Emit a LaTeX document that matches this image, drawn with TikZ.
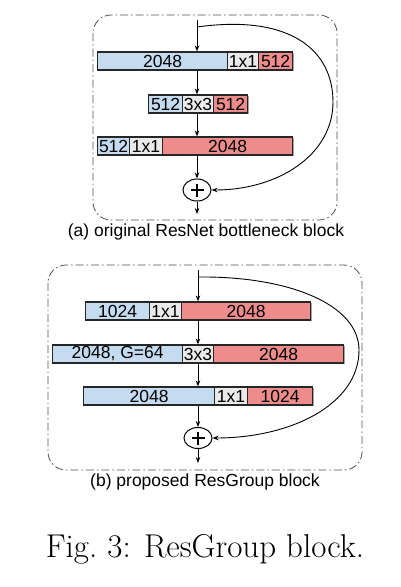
\documentclass[tikz,border=0pt]{standalone}
\usepackage{fontspec}
\setsansfont{Liberation Sans}
\usetikzlibrary{shapes.geometric,shadows,arrows.meta}
\definecolor{cblue}{RGB}{197,220,240}
\definecolor{cgray}{RGB}{234,234,234}
\definecolor{cred}{RGB}{238,140,140}
\definecolor{cborder}{RGB}{80,80,80}
\begin{document}
\begin{tikzpicture}[x=1pt,y=-1pt,
  seg/.style={draw=black!85, line width=1.2pt, inner sep=0pt, minimum height=18pt, anchor=west,
    font=\sffamily\fontsize{17.5}{18}\selectfont,
    drop shadow={shadow xshift=1.2pt, shadow yshift=-1.2pt, fill=black!45, opacity=0.8}},
  bl/.style={seg, fill=cblue},
  gr/.style={seg, fill=cgray},
  rd/.style={seg, fill=cred},
  arr/.style={-{Stealth[length=6pt,width=4.5pt]}, line width=0.9pt},
  frame/.style={draw=cborder, line width=0.8pt, dash pattern=on 8pt off 3pt on 1.5pt off 3pt, rounded corners=18pt},
  plusnode/.style={draw, ellipse, line width=1pt, minimum width=28pt, minimum height=22pt, inner sep=0pt},
  capt/.style={font=\sffamily\fontsize{17.5}{18}\selectfont, anchor=base, inner sep=0pt}
]
\useasboundingbox (0,0) rectangle (400,587);

% ---------------- (a) ----------------
\draw[frame] (93,15) rectangle (337,220);
\coordinate (ain) at (197,20);
\coordinate (askip) at (197,27);
\coordinate (aout) at (197,214);
\coordinate (aright) at (333,102);

\node[bl, minimum width=130pt] (a1b) at (97,61) {2048};
\node[gr, minimum width=31pt] (a1g) at (227,61) {1x1};
\node[rd, minimum width=34pt] (a1r) at (258,61) {512};

\node[bl, minimum width=34pt] (a2b) at (148,104) {512};
\node[gr, minimum width=31pt] (a2g) at (182,104) {3x3};
\node[rd, minimum width=34pt] (a2r) at (213,104) {512};

\node[bl, minimum width=32pt] (a3b) at (97,146) {512};
\node[gr, minimum width=33pt] (a3g) at (129,146) {1x1};
\node[rd, minimum width=130pt] (a3r) at (162,146) {2048};

\node[plusnode] (aplus) at (197,190) {};
\draw[line width=2.3pt] ([xshift=-6.5pt]aplus.center) -- ([xshift=6.5pt]aplus.center);
\draw[line width=2.3pt] ([yshift=-6.5pt]aplus.center) -- ([yshift=6.5pt]aplus.center);

\draw[arr] (ain) -- (ain |- a1b.north);
\draw[arr] (ain |- a1b.south) -- (ain |- a2b.north);
\draw[arr] (ain |- a2b.south) -- (ain |- a3b.north);
\draw[arr] (ain |- a3b.south) -- (aplus.north);
\draw[arr] (aplus.south) -- (aout);
\draw[arr] (askip) .. controls (290,14) and (333,50) .. (aright)
  .. controls (333,155) and (278,190) .. (aplus.east);

\node[capt] (acap) at (206,236) {(a) original ResNet bottleneck block};

% ---------------- (b) ----------------
\draw[frame] (48,265) rectangle (362,470);
\coordinate (bin) at (198,270);
\coordinate (bskip) at (198,277);
\coordinate (bout) at (198,463);
\coordinate (bright) at (359,350);

\node[bl, minimum width=64pt] (b1b) at (85,311) {1024};
\node[gr, minimum width=32pt] (b1g) at (149,311) {1x1};
\node[rd, minimum width=129pt] (b1r) at (181,311) {2048};

\node[bl, minimum width=130pt] (b2b) at (52,354) {2048, G=64};
\node[gr, minimum width=31pt] (b2g) at (182,354) {3x3};
\node[rd, minimum width=130pt] (b2r) at (213,354) {2048};

\node[bl, minimum width=131pt] (b3b) at (83,396) {2048};
\node[gr, minimum width=33pt] (b3g) at (214,396) {1x1};
\node[rd, minimum width=65pt] (b3r) at (247,396) {1024};

\node[plusnode, minimum height=21pt] (bplus) at (198,438) {};
\draw[line width=2.3pt] ([xshift=-6.5pt]bplus.center) -- ([xshift=6.5pt]bplus.center);
\draw[line width=2.3pt] ([yshift=-6.5pt]bplus.center) -- ([yshift=6.5pt]bplus.center);

\draw[arr] (bin) -- (bin |- b1b.north);
\draw[arr] (bin |- b1b.south) -- (bin |- b2b.north);
\draw[arr] (bin |- b2b.south) -- (bin |- b3b.north);
\draw[arr] (bin |- b3b.south) -- (bplus.north);
\draw[arr] (bplus.south) -- (bout);
\draw[arr] (bskip) .. controls (290,276) and (359,305) .. (bright)
  .. controls (359,405) and (290,438) .. (bplus.east);

\node[capt] (bcap) at (205,486) {(b) proposed ResGroup block};

% ---------------- figure caption ----------------
\node[anchor=base, inner sep=0pt, font=\fontsize{33}{36}\selectfont] (fig) at (205,557) {Fig.~3: ResGroup block.};
\end{tikzpicture}
\end{document}
